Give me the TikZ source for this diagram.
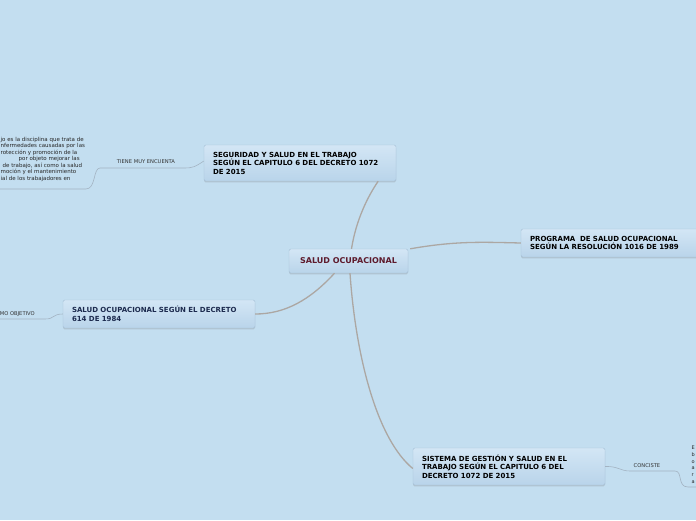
\documentclass[tikz,border=0pt]{standalone}
\usepackage{fontspec}
\setmainfont{DejaVu Sans}
\usetikzlibrary{shadows}

\definecolor{fondo}{HTML}{C3DEF0}
\definecolor{cajaA}{HTML}{D3E6F5}
\definecolor{cajaB}{HTML}{B9D4EA}
\definecolor{borde}{HTML}{A6C0D6}
\definecolor{ramagris}{HTML}{ACA7A3}
\definecolor{subgris}{HTML}{A3B3C2}
\definecolor{vino}{HTML}{5E1A2C}
\definecolor{marino}{HTML}{1C2A4E}

\tikzset{
	caja/.style={rectangle, top color=cajaA, bottom color=cajaB, draw=borde, line width=0.4pt,
		rounded corners=1.5pt, drop shadow={opacity=0.28, shadow xshift=0pt, shadow yshift=-1.3pt},
		inner xsep=9pt, inner ysep=0pt, align=left, font=\fontsize{7}{8.5}\selectfont\bfseries},
	rama/.style={draw=ramagris, line width=1.3pt},
	sub/.style={draw=subgris, line width=0.6pt},
	etiq/.style={font=\fontsize{5.2}{6}\selectfont, text=black!80, inner sep=1pt},
	texto/.style={font=\fontsize{5.5}{6.5}\selectfont, text=black!85, inner sep=0pt, align=left}
}

\begin{document}
\begin{tikzpicture}[x=1pt, y=-1pt]
	% Fondo
	\useasboundingbox (0,0) rectangle (696,520);
	\fill[fondo] (0,0) rectangle (696,520);
	\clip (0,0) rectangle (696,520);

	% Ramas principales
	\node[caja, minimum width=119pt, minimum height=24pt, align=center, text=vino,
		font=\fontsize{8}{9}\selectfont\bfseries] (raiz) at (348.5,261) {SALUD OCUPACIONAL};
	\node[caja, minimum width=192pt, minimum height=36pt, text width=174pt] (segur) at (300,163)
		{SEGURIDAD Y SALUD EN EL TRABAJO\\SEGÚN EL CAPITULO 6 DEL DECRETO 1072\\DE 2015};
	\node[caja, minimum width=192pt, minimum height=28pt, text width=174pt] (prog) at (617,243)
		{PROGRAMA~ DE SALUD OCUPACIONAL\\SEGÚN LA RESOLUCIÓN 1016 DE 1989};
	\node[caja, minimum width=192pt, minimum height=28pt, text width=174pt, text=marino] (decreto) at (159,314)
		{SALUD OCUPACIONAL SEGÚN EL DECRETO\\614 DE 1984};
	\node[caja, minimum width=192pt, minimum height=37pt, text width=174pt] (sistema) at (509,466.5)
		{SISTEMA DE GESTIÓN Y SALUD EN EL\\TRABAJO SEGÚN EL CAPITULO 6 DEL\\DECRETO 1072 DE 2015};

	\draw[rama] ([xshift=3pt]raiz.north) .. controls (356,220) and (368,196) .. ([xshift=-18pt]segur.south east);
	\draw[rama] ([xshift=2pt]raiz.north east) .. controls (455,241) and (480,242) .. (prog.west);
	\draw[rama] ([xshift=-14pt]raiz.south) .. controls (310,300) and (285,314) .. (decreto.east);
	\draw[rama] ([xshift=1.5pt]raiz.south) .. controls (356,360) and (378,440) .. ([yshift=-2pt]sistema.west);

	% Subramas
	\node[etiq] (tiene) at (146,162) {TIENE MUY ENCUENTA};
	\node[etiq, anchor=east] (objetivo) at (36,314) {MO OBJETIVO};
	\node[etiq] (consiste) at (647,466) {CONCISTE};

	\node[texto, anchor=north west] (defin) at (0.5,137)
		{jo es la disciplina que trata de\\nfermedades causadas por las\\rotección y promoción de la\\%
\hspace*{18pt}por objeto mejorar las\\\hspace*{2pt}de trabajo, así como la salud\\moción y el mantenimiento\\ial de los trabajadores en};
	\node[texto, anchor=north west, font=\fontsize{5}{6.7}\selectfont] (letras) at (691.5,446)
		{E\\b\\o\\a\\r\\a};

	\coordinate (finA) at (0,189);
	\coordinate (finB) at (0,319);
	\coordinate (finC) at (696,487);

	\draw[sub] ([yshift=2pt]segur.west) .. controls (195,167) and (192,168) .. (185,168) -- (100,168)
		.. controls (93,168) and (96,189) .. (86,189) -- (finA);
	\draw[sub] (decreto.west) .. controls (52,314) and (55,319) .. (45,319) -- (finB);
	\draw[sub] (sistema.east) .. controls (618,466) and (620,471) .. (630,471) -- (675,471)
		.. controls (683,471) and (677,487) .. (688,487) -- (finC);
\end{tikzpicture}
\end{document}
